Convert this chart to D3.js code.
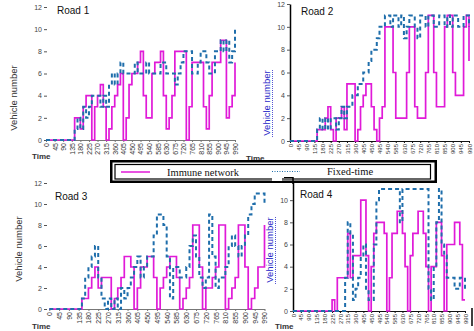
<!DOCTYPE html>
<html><head><meta charset="utf-8">
<script src="https://cdn.jsdelivr.net/npm/d3@7/dist/d3.min.js"></script>
<style>body{margin:0;background:#fff;} svg{display:block;}</style>
</head><body><svg id="c" width="474" height="331"></svg>
<script>
// ---- data ----
const timeTicks = [0,45,90,135,180,225,270,315,360,405,450,495,540,585,630,675,720,765,810,855,900,945,990];
const yTicks = [0,2,4,6,8,10,12];
const sampleStep = 15; // seconds between samples
const roadTitles = ["Road 1","Road 2","Road 3","Road 4"];
const legendLabels = ["Immune network","Fixed-time"];
const axisTitleY = "Vehicle number";
const axisTitleX = "Time";

const road1Immune = [0,0,0,0,0,0,0,0,0,0, 2,2,1,3,4,4,0,3,4,5, 3,0,1,3,4,5,6,0,2,5, 6,6,7,8,4,2,2,6,7,7, 8,4,1,2,4,8,8,8,8,0, 3,7,7,7,7,3,1,4,7,7, 7,9,9,2,3,4,7];
const road1Fixed  = [0,0,0,0,0,0,0,0,0,0, 1,2,1,3,2,3,4,4,4,3, 4,3,5,6,5,6,7,6,6,6, 6,7,6,6,6,7,6,6,6,6, 7,7,6,6,6,5,6,7,8,8, 8,6,6,7,8,8,7,6,6,8, 8,9,8,9,7,8,10];
const road2Immune = [0,0,0,0,0,0,0,0,0,0, 1,1,1,2,3,1,0,2,2,3, 1,5,5,5,0,1,3,4,5,5, 3,1,0,2,3,10,10,10,6,2, 2,2,2,6,10,10,3,2,2,2, 6,11,11,6,3,3,3,10,11,11, 6,4,4,4,10,11,7];
const road2Fixed  = [0,0,0,0,0,0,0,0,0,0, 1,2,1,2,1,2,2,1,2,3, 2,3,3,4,4,5,5,6,6,7, 8,8,9,10,10,11,11,10,11,11, 10,11,9,10,11,11,10,9,11,11, 10,11,11,10,10,11,11,10,11,10, 11,11,10,10,11,11,10];
const road3Immune = [0,0,0,0,0,0,0,0,0,0, 1,1,2,3,4,2,3,3,3,0, 1,2,3,5,5,4,0,2,4,4, 5,5,3,0,2,3,4,5,5,3, 0,1,2,3,8,8,4,0,2,2, 3,4,8,8,0,1,2,3,8,8, 4,0,1,2,4,4,8];
const road3Fixed  = [0,0,0,0,0,0,0,0,0,0, 1,3,4,5,6,3,1,0,1,0, 1,0,2,1,2,3,4,5,3,4, 5,5,7,9,9,8,5,1,4,4, 3,3,4,6,7,5,3,2,3,9, 5,2,3,3,4,6,7,6,5,6, 7,9,10,11,11,11,10];
const road4Immune = [0,0,0,0,0,0,0,0,0,0, 0,0,0,0,0,1,0,3,3,3, 3,7,3,5,5,5,10,10,5,0, 4,7,8,8,8,7,0,3,7,7, 9,9,7,4,0,5,7,7,9,9, 7,4,0,4,4,8,8,5,0,6, 6,6,8,8,6,1,1];
const road4Fixed  = [0,0,0,0,0,0,0,0,0,0, 0,0,0,0,0,0,0,0,0,0, 3,8,7,1,2,3,5,6,2,1, 1,6,10,11,11,11,11,11,11,11, 11,8,11,11,11,11,11,11,11,11, 11,11,2,1,4,8,11,6,5,3, 3,3,2,2,3,3,2];

// ---- styles ----
const immuneColor = "#e01ad8";
const fixedColor = "#1f6eab";
const sans = "Liberation Sans, Arial, sans-serif";
const serif = "Liberation Serif, Times New Roman, serif";

const panels = [
  {title: roadTitles[0], immune: road1Immune, fixed: road1Fixed, xr:[46,235], yr:[140,7], axisX:47, axisLine:false, axisColor:"#777",
   titleXY:[57,14], ylab:{x:17, y:98, blue:false}, timeXY:[32,159], tickFont:7},
  {title: roadTitles[1], immune: road2Immune, fixed: road2Fixed, xr:[290,469], yr:[141,4], axisX:290, axisLine:true, axisColor:"#111",
   titleXY:[301,15], ylab:{x:270, y:103, blue:true}, timeXY:[246,161], tickFont:6},
  {title: roadTitles[2], immune: road3Immune, fixed: road3Fixed, xr:[49.3,264.5], yr:[309,183], axisX:47, axisLine:false, axisColor:"#777",
   titleXY:[55,200], ylab:{x:22, y:249, blue:false}, timeXY:[32,329], tickFont:7},
  {title: roadTitles[3], immune: road4Immune, fixed: road4Fixed, xr:[293,465], yr:[311,178], axisX:293, axisLine:true, axisColor:"#111",
   titleXY:[300,198], ylab:{x:273, y:250, blue:true}, timeXY:[275,329], tickFont:6}
];

const svg = d3.select("#c");

panels.forEach(p => {
  const g = svg.append("g");
  const x = d3.scaleLinear().domain([0, 990]).range(p.xr);
  const y = d3.scaleLinear().domain([0, 12]).range(p.yr);

  // x axis
  const xa = g.append("g").attr("transform", `translate(0,${p.yr[0]})`)
    .call(d3.axisBottom(x).tickValues(timeTicks).tickSize(2).tickSizeOuter(0));
  xa.attr("font-family", sans).attr("font-size", p.tickFont);
  xa.select(".domain").attr("stroke", p.axisColor).attr("stroke-width", 1);
  xa.selectAll(".tick line").attr("stroke", p.axisColor);
  xa.selectAll(".tick text")
    .attr("transform", "rotate(-90)")
    .attr("text-anchor", "end")
    .attr("x", -3).attr("y", 0).attr("dy", "0.35em")
    .attr("fill", "#333");

  // y axis
  const ya = g.append("g").attr("transform", `translate(${p.axisX},0)`)
    .call(d3.axisLeft(y).tickValues(yTicks).tickSize(3).tickSizeOuter(0).tickPadding(2));
  ya.attr("font-family", sans).attr("font-size", 7);
  ya.select(".domain").attr("stroke", p.axisLine ? "#000" : "none").attr("stroke-width", 1.5);
  ya.selectAll(".tick line").attr("stroke", "#555");
  ya.selectAll(".tick text").attr("fill", "#444");

  // series
  const line = d3.line()
    .x((d, i) => x(i * sampleStep))
    .y(d => y(d))
    .curve(d3.curveStepAfter);
  g.append("path").datum(p.immune).attr("d", line)
    .attr("fill", "none").attr("stroke", immuneColor).attr("stroke-width", 1.7);
  g.append("path").datum(p.fixed).attr("d", line)
    .attr("fill", "none").attr("stroke", fixedColor).attr("stroke-width", 2)
    .attr("stroke-dasharray", "4,3");

  // title
  g.append("text").attr("x", p.titleXY[0]).attr("y", p.titleXY[1])
    .attr("font-family", sans).attr("font-size", 10).attr("fill", "#111").text(p.title);

  // y axis title
  const yl = g.append("g").attr("transform", `translate(${p.ylab.x},${p.ylab.y}) rotate(-90)`);
  yl.append("text").attr("text-anchor", "middle").attr("y", 0)
    .attr("font-family", sans).attr("font-size", 9.5)
    .attr("fill", p.ylab.blue ? "#2a2ac8" : "#333").text(axisTitleY);
  if (p.ylab.blue) {
    yl.append("line").attr("x1", -34).attr("x2", 34).attr("y1", 2.5).attr("y2", 2.5)
      .attr("stroke", "#2a2ac8").attr("stroke-width", 0.8).attr("stroke-dasharray", "1,1");
  }

  // x axis title
  g.append("text").attr("x", p.timeXY[0]).attr("y", p.timeXY[1])
    .attr("font-family", sans).attr("font-size", 8).attr("font-weight", "bold")
    .attr("fill", "#333").text(axisTitleX);
});

// ---- legend ----
const lg = svg.append("g");
lg.append("rect").attr("x", 111.25).attr("y", 161.25).attr("width", 324.5).attr("height", 20.5)
  .attr("fill", "#fff").attr("stroke", "#000").attr("stroke-width", 2.5);
lg.append("rect").attr("x", 115).attr("y", 164.5).attr("width", 315.5).attr("height", 14.5)
  .attr("fill", "none").attr("stroke", "#000").attr("stroke-width", 1.2);
lg.append("line").attr("x1", 121).attr("x2", 150).attr("y1", 172).attr("y2", 172)
  .attr("stroke", immuneColor).attr("stroke-width", 1.5);
lg.append("text").attr("x", 167).attr("y", 175.5).attr("font-family", serif).attr("font-size", 10.5)
  .attr("fill", "#111").text(legendLabels[0]);
lg.append("line").attr("x1", 272).attr("x2", 300).attr("y1", 171.5).attr("y2", 171.5)
  .attr("stroke", fixedColor).attr("stroke-width", 1).attr("stroke-dasharray", "1,1.5");
lg.append("text").attr("x", 327).attr("y", 175).attr("font-family", serif).attr("font-size", 10.5)
  .attr("fill", "#111").text(legendLabels[1]);
lg.append("rect").attr("x", 272).attr("y", 177).attr("width", 10).attr("height", 4).attr("fill", "#fff");

// road 4 axis top stub over legend edge and right border mark
svg.append("line").attr("x1", 293).attr("x2", 293).attr("y1", 177).attr("y2", 184)
  .attr("stroke", "#000").attr("stroke-width", 1.5);
svg.append("line").attr("x1", 284).attr("x2", 293).attr("y1", 177.5).attr("y2", 177.5)
  .attr("stroke", "#000").attr("stroke-width", 1);
svg.append("line").attr("x1", 472).attr("x2", 472).attr("y1", 308).attr("y2", 326)
  .attr("stroke", "#000").attr("stroke-width", 1.5);
</script></body></html>
